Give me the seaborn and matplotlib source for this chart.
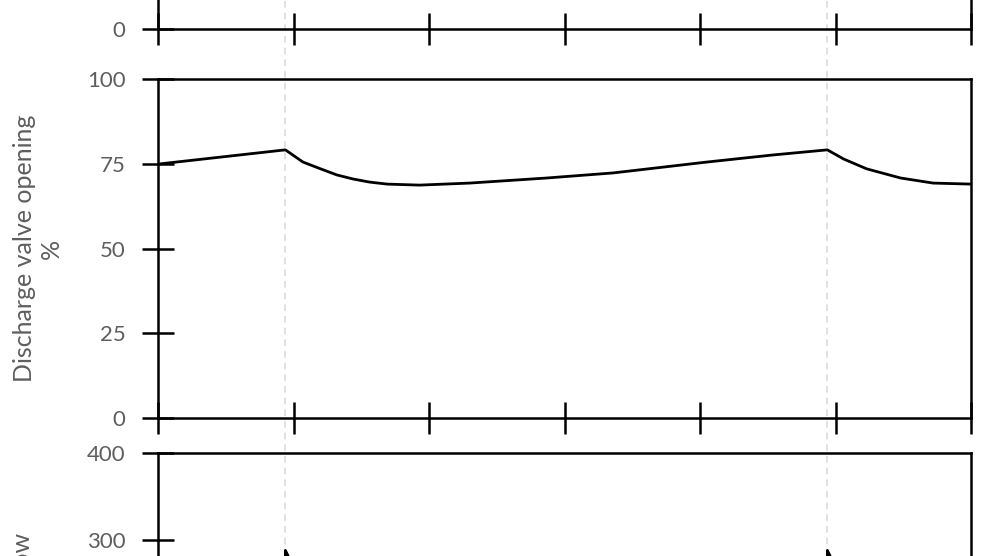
import matplotlib
matplotlib.use("Agg")
import matplotlib.pyplot as plt
import matplotlib.transforms as mtransforms
from matplotlib.lines import Line2D
import pandas as pd
import seaborn as sns

# values (time in minutes)
time_valve = [0, 9.4, 10.7, 12.0, 13.2, 14.4, 15.6, 16.9, 19.3, 23.0, 28.7, 33.6,
              40.5, 45.4, 49.4, 50.6, 52.3, 54.8, 57.2, 60]
valve_opening = [74.9, 79.1, 75.5, 73.5, 71.7, 70.5, 69.6, 69.0, 68.7, 69.3, 70.8, 72.3,
                 75.5, 77.6, 79.1, 76.4, 73.5, 70.8, 69.3, 69.0]

time_flow = [0, 9.4, 9.4, 10.6, 40.0, 49.4, 49.4, 50.6, 60]
discharge_flow = [240, 240, 288, 250, 240, 240, 288, 250, 240]

events = [9.4, 49.4]
x_ticks = [0, 10, 20, 30, 40, 50, 60]

sns.set_style("ticks")
plt.rcParams["font.family"] = ["Lato", "DejaVu Sans"]

grey = "#5e5e5e"
lw = 1.8

fig = plt.figure(figsize=(10, 5.56), dpi=100)
# the picture is a crop of a taller figure: axes run past the edges
ax_top = fig.add_axes([0.158, 0.9478, 0.813, 0.6097])
ax_mid = fig.add_axes([0.158, 0.2482, 0.813, 0.6097])
ax_bot = fig.add_axes([0.158, -0.4406, 0.813, 0.6259])

df_valve = pd.DataFrame({"time": time_valve, "opening": valve_opening})
df_flow = pd.DataFrame({"time": time_flow, "flow": discharge_flow})

sns.lineplot(data=df_valve, x="time", y="opening", ax=ax_mid, color="black", linewidth=2.0)
sns.lineplot(data=df_flow, x="time", y="flow", ax=ax_bot, color="black", linewidth=2.0,
             estimator=None, sort=False)

ax_top.set_ylim(0, 100)
ax_mid.set_ylim(0, 100)
ax_bot.set_ylim(0, 400)

for ax in (ax_top, ax_mid, ax_bot):
    ax.set_facecolor("none")
    ax.set_xlim(0, 60)
    ax.set_xticks(x_ticks)
    ax.tick_params(axis="both", direction="inout", length=23, width=lw,
                   color="black", labelcolor=grey, labelsize=16, pad=12,
                   labelbottom=False)
    for side in ("left", "right", "top", "bottom"):
        ax.spines[side].set_linewidth(lw)
        ax.spines[side].set_color("black")
    ax.set_xlabel("")

# only the ticks that fall inside the cropped view
ax_top.set_yticks([0])
ax_mid.set_yticks([0, 25, 50, 75, 100])
ax_bot.set_yticks([300, 400])

ax_top.set_ylabel("")
ax_mid.set_ylabel("Discharge valve opening\n%", color=grey, fontsize=18)
ax_bot.set_ylabel("Discharge flow\nm³/h", color=grey, fontsize=18)
ax_mid.yaxis.set_label_coords(-0.117, 0.5)
ax_bot.yaxis.set_label_coords(-0.12, 0.535)

# light dashed event markers running through all panels
trans = mtransforms.blended_transform_factory(ax_mid.transData, fig.transFigure)
for t in events:
    fig.add_artist(Line2D([t, t], [0, 1], transform=trans, color="#dcdcdc",
                          linestyle=(0, (4, 3)), linewidth=1.2, zorder=-1))

fig.savefig("out.png", dpi=100)
